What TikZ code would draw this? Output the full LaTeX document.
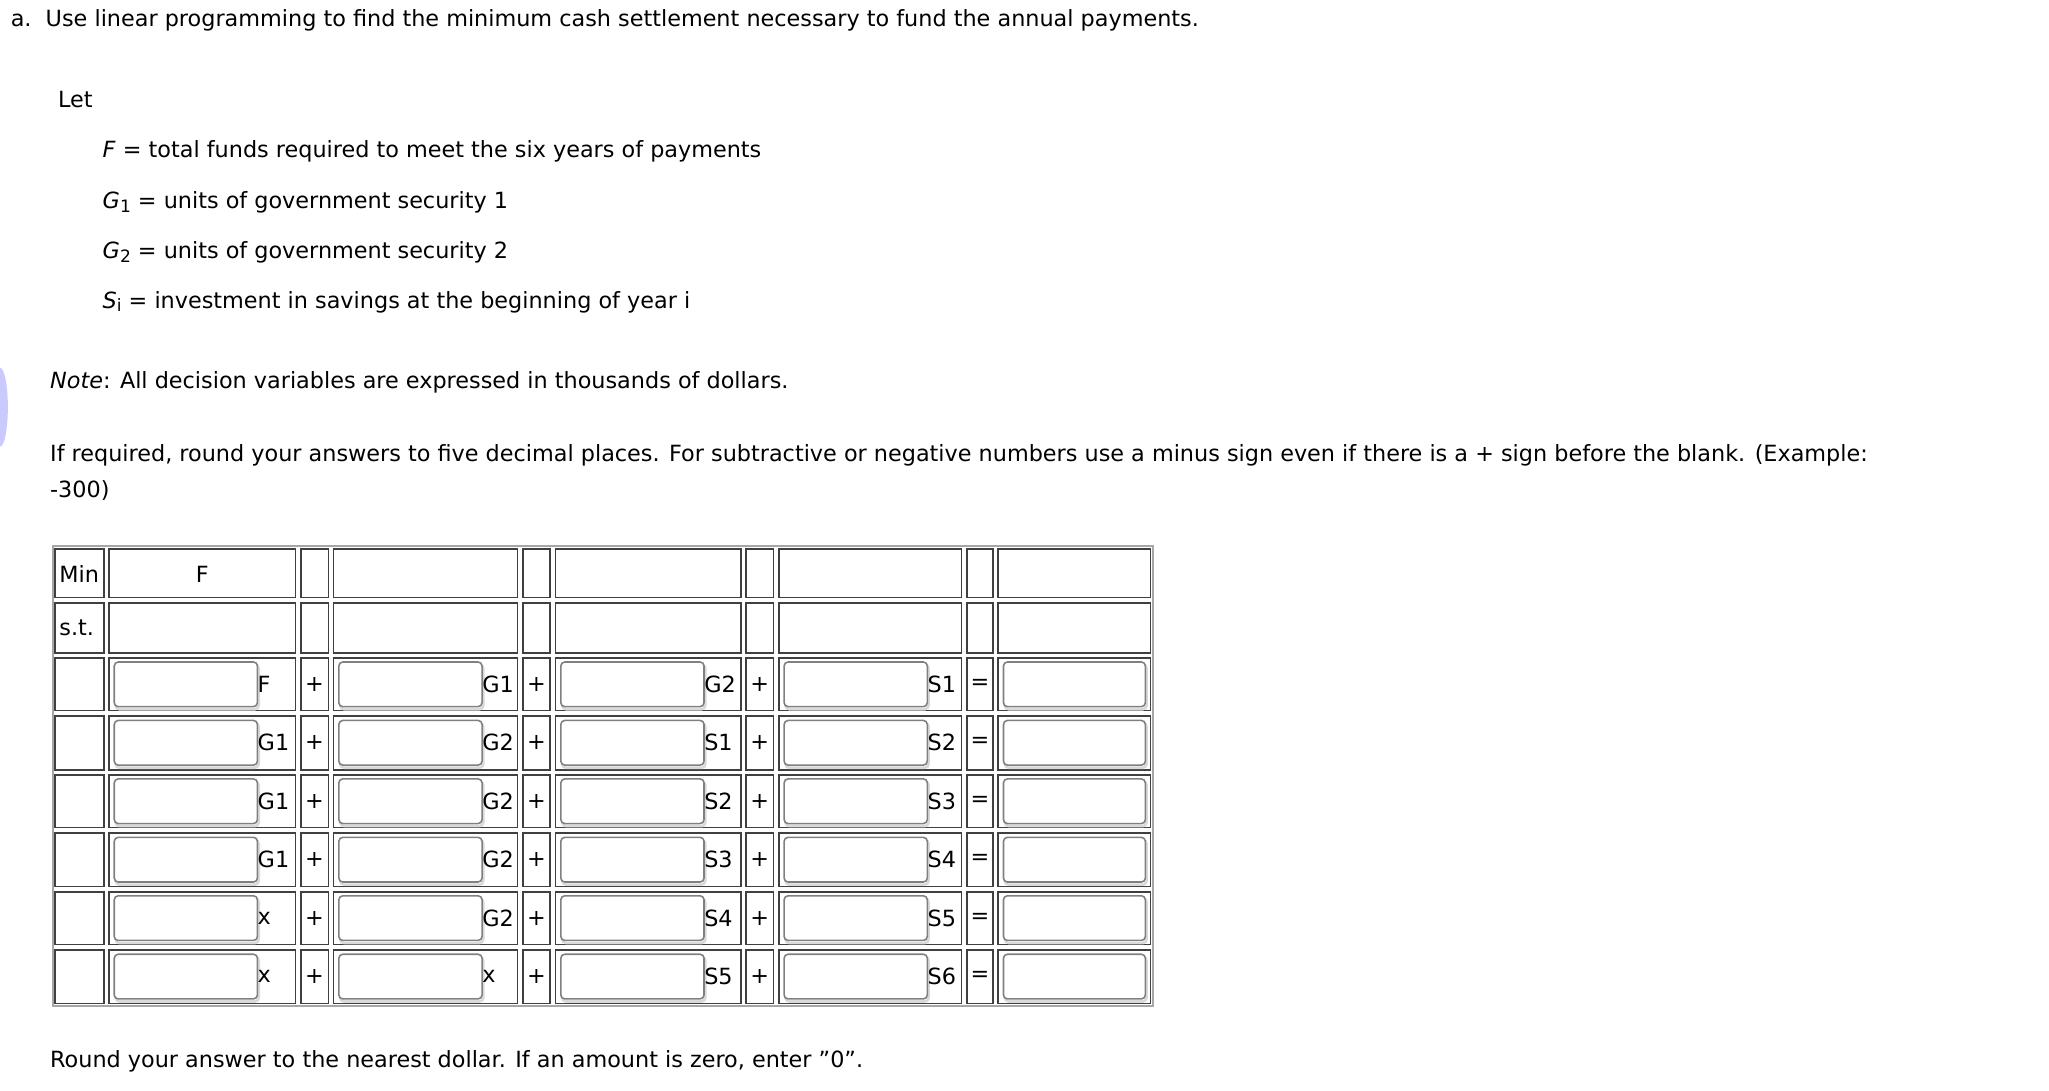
\documentclass[tikz,border=0pt]{standalone}
\usepackage{fontspec}
\setmainfont{DejaVu Sans}
\begin{document}
\begin{tikzpicture}[x=1pt,y=-1pt,
  txt/.style={anchor=base west,inner sep=0pt,font=\fontsize{17}{20}\selectfont},
  celltxt/.style={inner sep=0pt,font=\fontsize{17}{20}\selectfont},
  cellbox/.style={draw=black!75,line width=1.3pt},
  inbox/.style={draw=black!50,line width=1.2pt,rounded corners=3pt,fill=white}]
\useasboundingbox (0,0) rectangle (1560,830.6);
\newcommand{\sbs}[1]{{\fontsize{13}{13}\selectfont\raisebox{-2.5pt}{#1}}}
\fill[blue!35,opacity=0.6] (0,340) arc[start angle=90,end angle=-90,x radius=6,y radius=30] -- cycle;
\node[txt] (t1) at (8,20) {a.\ \ Use linear programming to find the minimum cash settlement necessary to fund the annual payments.};
\node[txt] (let) at (44,82) {Let};
\node[txt] (d1) at (78,120) {\textit{F} = total funds required to meet the six years of payments};
\node[txt] (d2) at (78,159) {\textit{G}\sbs{1} = units of government security 1};
\node[txt] (d3) at (78,197) {\textit{G}\sbs{2} = units of government security 2};
\node[txt] (d4) at (78,235) {\textit{S}\sbs{i} = investment in savings at the beginning of year i};
\node[txt] (note) at (38,296) {\textit{Note}: All decision variables are expressed in thousands of dollars.};
\node[txt] (ifr) at (38,351) {If required, round your answers to five decimal places. For subtractive or negative numbers use a minus sign even if there is a + sign before the blank. (Example:};
\node[txt] (ex) at (38,379) {-300)};
\node[txt] (rnd) at (38,813) {Round your answer to the nearest dollar. If an amount is zero, enter "0".};
% table
\def\cols{40,81,227,252,396,421,566,591,734,758,878}
\draw[black!35,line width=1.5pt] (40,416) rectangle (878,766);
\foreach \ya/\yb in {416/457,457/499,499/543,543/588,588/632,632/677,677/721,721/766}{
  \foreach \xa/\xb in {40/81,81/227,227/252,252/396,396/421,421/566,566/591,591/734,734/758,758/878}{
    \draw[cellbox] (\xa+2,\ya+2) rectangle (\xb-2,\yb-2);
  }
}
\node[celltxt,anchor=west] (min) at (45,437) {Min};
\node[celltxt] (fmin) at (154,437) {F};
\node[celltxt,anchor=west] (st) at (45,478) {s.t.};
% rows: y-center, labels for 4 columns ("" = none)
\foreach \yc/\la/\lb/\lc/\ld [count=\r] in {521/F/G1/G2/S1, 565.5/G1/G2/S1/S2, 610/G1/G2/S2/S3, 654.5/G1/G2/S3/S4, 699/x/G2/S4/S5, 743.5/x/x/S5/S6}{
  \foreach \bx/\lab/\px/\sym [count=\c] in {87/\la/239.5/+, 258/\lb/408.5/+, 427/\lc/578.5/+, 597/\ld/746/=}{
    \ifx\lab x\else
      \draw[black!15,line width=2pt,rounded corners=3pt] (\bx+1,\yc-15) rectangle (\bx+110,\yc+19);
      \draw[inbox] (\bx,\yc-17) rectangle (\bx+109,\yc+17);
      \node[celltxt,anchor=west] (l\r\c) at (\bx+109,\yc) {\lab};
      \node[celltxt] (p\r\c) at (\px,\yc) {\sym};
    \fi
  }
  \draw[black!15,line width=2pt,rounded corners=3pt] (765,\yc-15) rectangle (873,\yc+19);
  \draw[inbox] (764,\yc-17) rectangle (872,\yc+17);
}
\end{tikzpicture}
\end{document}
